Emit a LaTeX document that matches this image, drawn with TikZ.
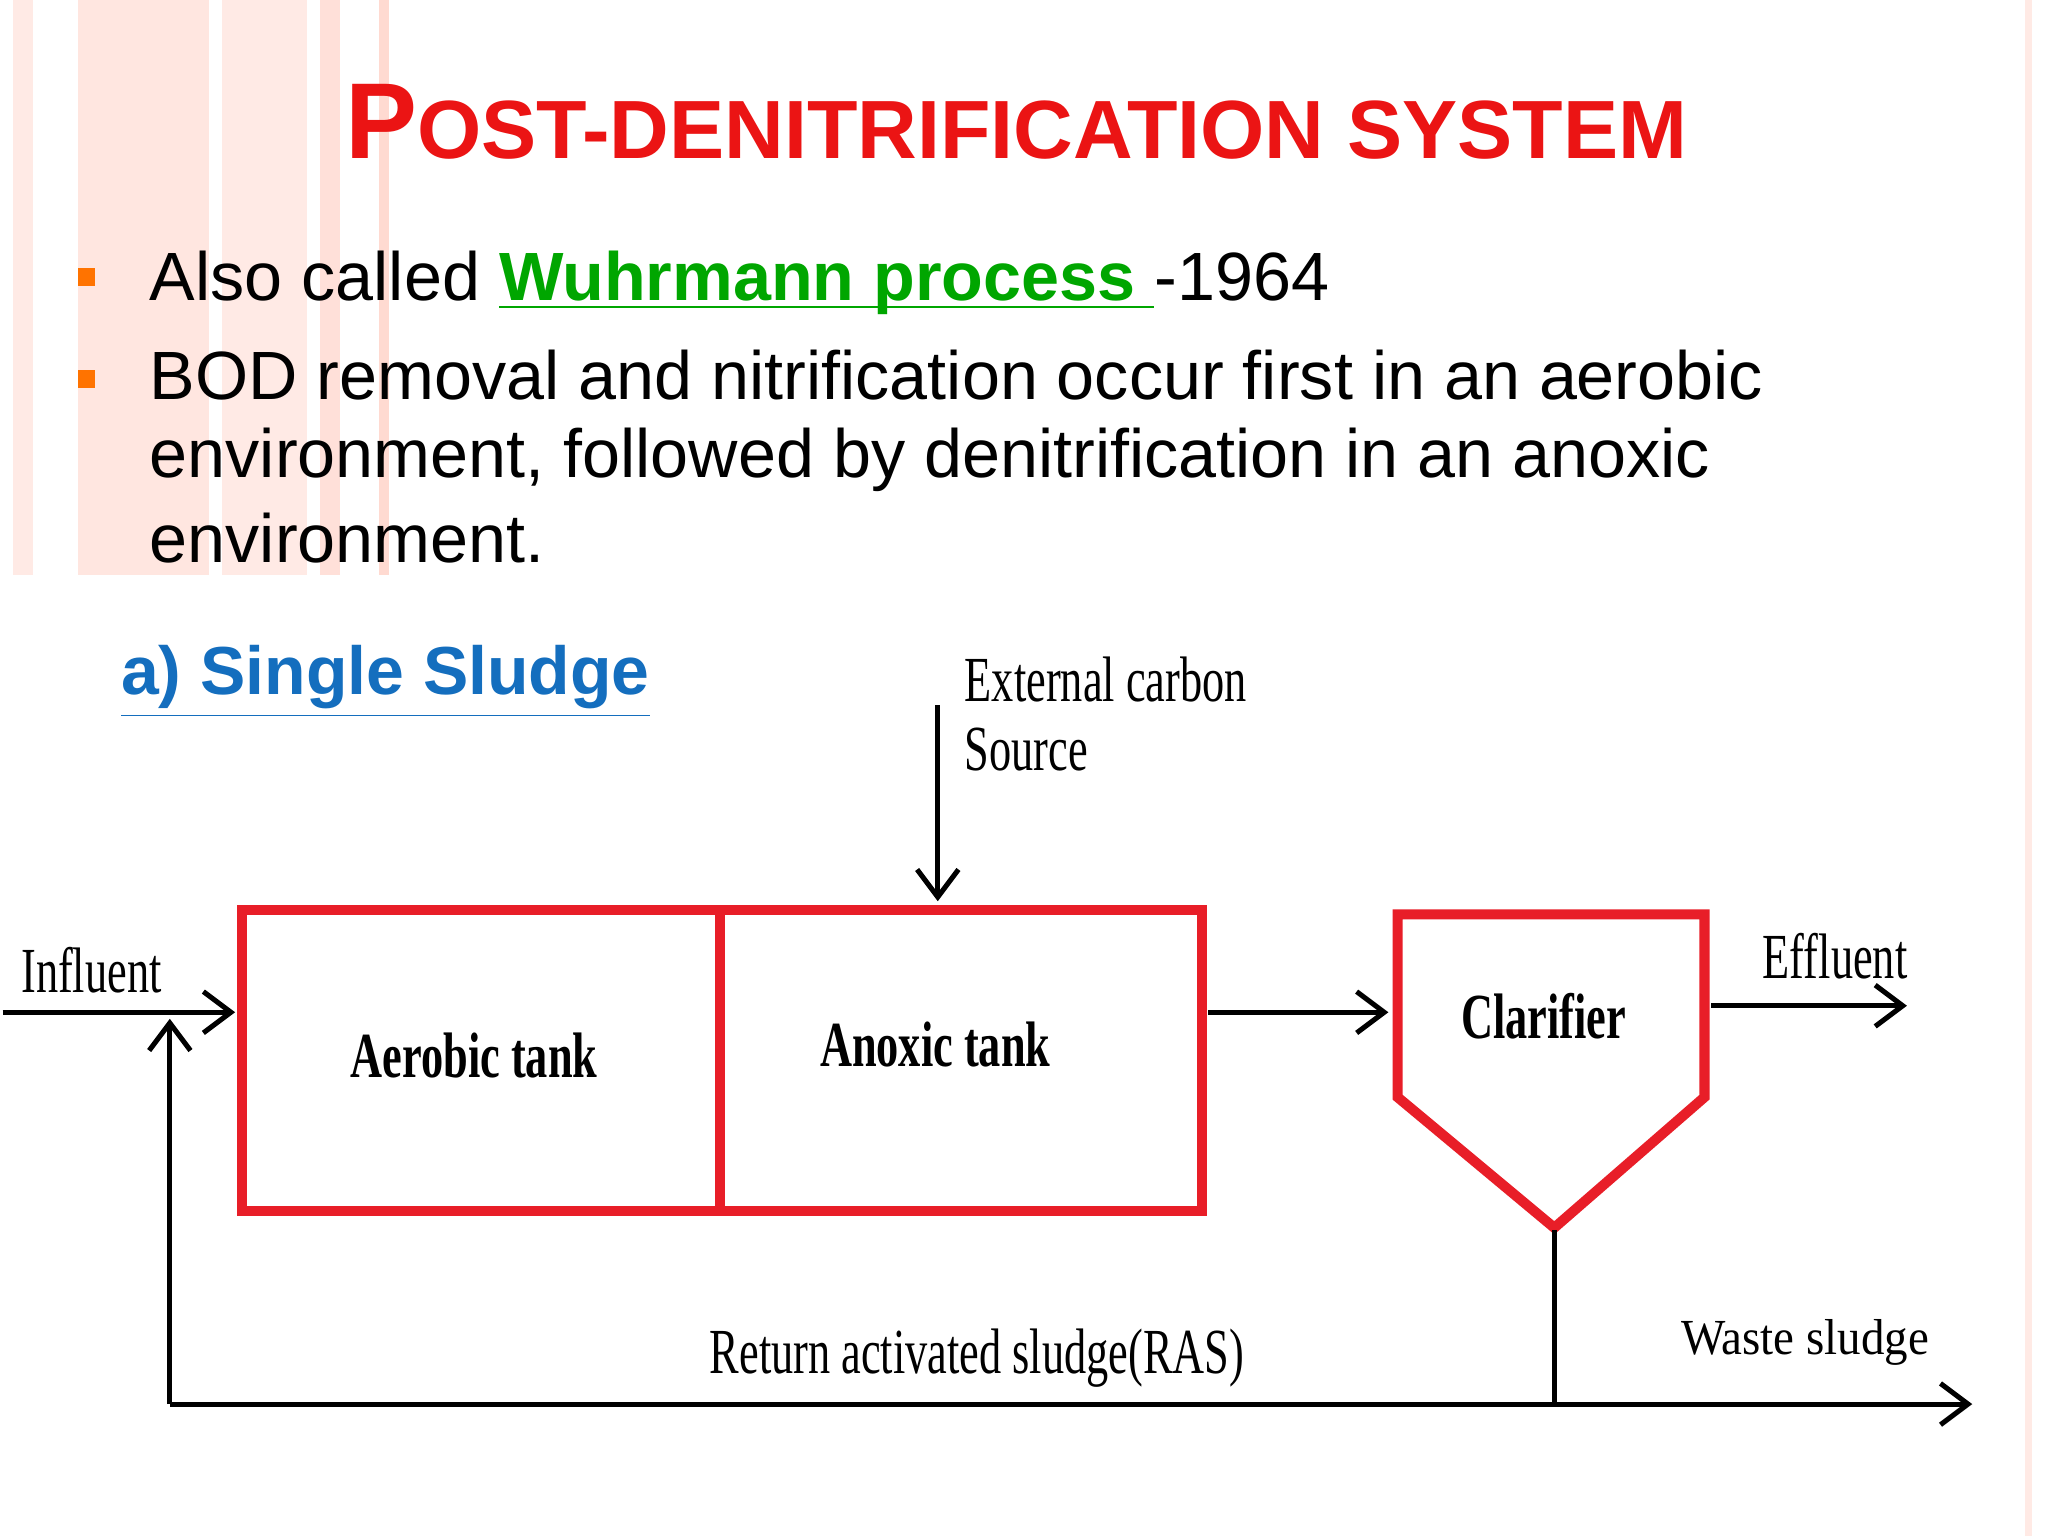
\documentclass[tikz,border=0pt]{standalone}
\usepackage{fontspec}
\setmainfont{Liberation Serif}
\setsansfont{Liberation Sans}
\newfontfamily\condser[FakeStretch=0.69]{Liberation Serif}
\newfontfamily\condbold[FakeStretch=0.69]{Liberation Serif Bold}
\newfontfamily\wasteser[FakeStretch=0.93]{Liberation Serif}
\usetikzlibrary{arrows.meta}
\begin{document}
\begin{tikzpicture}[x=0.1mm,y=-0.1mm,
  red1/.style={draw={rgb,255:red,232;green,30;blue,40}, line width=2.2pt, line join=miter},
  flow/.style={line width=1.1pt, -{Straight Barb[length=6pt,width=9pt]}},
  plain/.style={line width=1.1pt},
  lab/.style={font=\condser\fontsize{14}{16}\selectfont, inner sep=0pt},
  blab/.style={font=\condbold\fontsize{14}{16}\selectfont, inner sep=0pt},
  body/.style={font=\sffamily\fontsize{14.88}{17}\selectfont, anchor=west, inner sep=0pt}]
\useasboundingbox (0,0) rectangle (1568,1176);
\fill[white] (0,0) rectangle (1568,1176);
% decorative stripes
\fill[red!60!orange, opacity=0.10] (10,0) rectangle (25,440);
\fill[red!60!orange, opacity=0.12] (60,0) rectangle (160,440);
\fill[red!60!orange, opacity=0.10] (170,0) rectangle (235,440);
\fill[red!60!orange, opacity=0.15] (245,0) rectangle (260,440);
\fill[red!60!orange, opacity=0.18] (290,0) rectangle (298,440);
\fill[red!60!orange, opacity=0.10] (1550,0) rectangle (1556,1176);
% title
\node[font=\sffamily\bfseries, text={rgb,255:red,235;green,20;blue,20}, inner sep=0pt] (title) at (778,93)
  {\fontsize{23.5}{26}\selectfont P\fontsize{18}{20}\selectfont OST-DENITRIFICATION SYSTEM};
% bullets
\fill[orange!90!red] (60,205) rectangle (73,219);
\fill[orange!90!red] (60,283) rectangle (73,297);
\node[body] (b1) at (114,215) {Also called \textcolor{green!65!black}{\bfseries\underline{\smash{Wuhrmann process }}}-1964};
\node[body] (b2) at (114,287) {BOD removal and nitrification occur first in an aerobic};
\node[body] (b3) at (114,352) {environment, followed by denitrification in an anoxic};
\node[body] (b4) at (114,412) {environment.};
\node[font=\sffamily\bfseries\fontsize{14.8}{18}\selectfont, text={rgb,255:red,20;green,110;blue,190}, inner sep=0pt, anchor=west] (sub) at (92,522) {\underline{a) Single Sludge}};
% tanks
\draw[red1] (185,697) rectangle (920,927);
\draw[red1] (551,697) -- (551,927);
\node[blab] (aer) at (363,808) {Aerobic tank};
\node[blab] (anx) at (716,800) {Anoxic tank};
\coordinate (tanktop) at (718,690);
\coordinate (tankin) at (180,775);
\coordinate (tankout) at (925,775);
% external carbon
\node[lab, anchor=west] (ext1) at (738,520) {External carbon};
\node[lab, anchor=west] (ext2) at (738,574) {Source};
\coordinate (extstart) at (718,540);
\draw[flow] (extstart) -- (tanktop);
% influent
\node[lab] (inf) at (70,743) {Influent};
\coordinate (infstart) at (2,775);
\draw[flow] (infstart) -- (tankin);
% clarifier
\draw[red1] (1070,700) -- (1305,700) -- (1305,840) -- (1190,940) -- (1070,840) -- cycle;
\node[blab] (cla) at (1182,778) {Clarifier};
\coordinate (clain) at (1063,775);
\draw[flow] (tankout) -- (clain);
\node[lab] (eff) at (1405,732) {Effluent};
\coordinate (effstart) at (1310,770);
\coordinate (effend) at (1460,770);
\draw[flow] (effstart) -- (effend);
% sludge lines
\coordinate (clabot) at (1190,942);
\coordinate (junc) at (1190,1075);
\coordinate (left) at (130,1075);
\coordinate (ret) at (130,780);
\coordinate (waste) at (1510,1075);
\draw[plain] (clabot) -- (junc);
\draw[flow] (left) -- (waste);
\draw[flow] (left) -- (ret);
\node[lab] (ras) at (748,1040) {Return activated sludge(RAS)};
\node[font=\wasteser\fontsize{11}{13}\selectfont, inner sep=0pt] (ws) at (1382,1028) {Waste sludge};
\end{tikzpicture}
\end{document}
